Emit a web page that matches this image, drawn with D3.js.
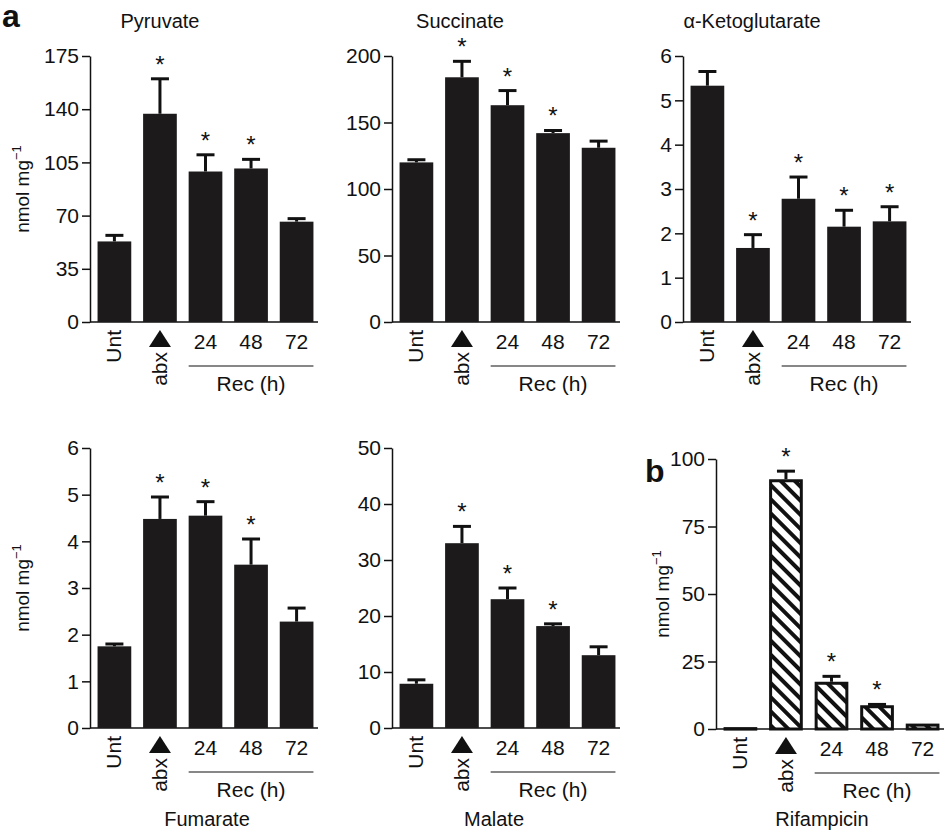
<!DOCTYPE html>
<html><head><meta charset="utf-8">
<script src="https://cdn.jsdelivr.net/npm/d3@7"></script>
<style>body{margin:0;background:#fff}text{font-family:"Liberation Sans",Arial,sans-serif;fill:#111}</style>
</head><body><svg id="c" width="946" height="832"></svg>
<script>
const categories=["Unt","abx","24","48","72"];
const pyruvate=[53,137,99,101,66], pyruvateErr=[4,23,11,6,2];
const succinate=[120,184,163,142,131], succinateErr=[2,12,11,2,5];
const akg=[5.33,1.67,2.78,2.15,2.27], akgErr=[0.32,0.3,0.49,0.37,0.33];
const fumarate=[1.75,4.48,4.55,3.5,2.28], fumarateErr=[0.05,0.47,0.3,0.55,0.29];
const malate=[7.9,33,23,18.2,13], malateErr=[0.7,3,2,0.4,1.5];
const rifampicin=[0.7,92.5,17.5,8.8,2], rifampicinErr=[0,3,2,0.3,0];
const stars=[[0,1,1,1,0],[0,1,1,1,0],[0,1,1,1,1],[0,1,1,1,0],[0,1,1,1,0],[0,1,1,1,0]];
const svg=d3.select("#c");
const defs=svg.append("defs");
const pat=defs.append("pattern").attr("id","hatch").attr("patternUnits","userSpaceOnUse").attr("width",10).attr("height",10).attr("patternTransform","rotate(-45)");
pat.append("rect").attr("width",10).attr("height",10).attr("fill","#fff");
pat.append("rect").attr("width",4).attr("height",10).attr("fill","#111");
const panels=[
 {vals:pyruvate,err:pyruvateErr,st:stars[0],ax:90,top:56,bot:322,max:175,ticks:[0,35,70,105,140,175],title:"Pyruvate",tx:160,ty:28,ylab:20},
 {vals:succinate,err:succinateErr,st:stars[1],ax:392,top:56,bot:322,max:200,ticks:[0,50,100,150,200],title:"Succinate",tx:460,ty:28},
 {vals:akg,err:akgErr,st:stars[2],ax:683,top:56,bot:322,max:6,ticks:[0,1,2,3,4,5,6],title:"α-Ketoglutarate",tx:752,ty:28},
 {vals:fumarate,err:fumarateErr,st:stars[3],ax:90,top:448,bot:728,max:6,ticks:[0,1,2,3,4,5,6],title:"Fumarate",tx:207,ty:826,ylab:20},
 {vals:malate,err:malateErr,st:stars[4],ax:392,top:448,bot:728,max:50,ticks:[0,10,20,30,40,50],title:"Malate",tx:494,ty:826},
 {vals:rifampicin,err:rifampicinErr,st:stars[5],ax:716,top:459,bot:729,max:100,ticks:[0,25,50,75,100],title:"Rifampicin",tx:822,ty:826,ylab:660,hatch:true}
];
panels.forEach(p=>{
 const g=svg.append("g");
 const x=d3.scaleBand().domain(categories).range([p.ax+3,p.ax+3+5*45]).paddingInner(0.26).paddingOuter(0.1);
 const y=d3.scaleLinear().domain([0,p.max]).range([p.bot,p.top]);
 const ya=g.append("g").attr("transform",`translate(${p.ax},0)`).call(d3.axisLeft(y).tickValues(p.ticks).tickFormat(d3.format("d")).tickSize(8).tickSizeOuter(0));
 ya.attr("font-size",null);
 ya.select(".domain").attr("stroke","#111").attr("stroke-width",1.5);
 ya.selectAll("line").attr("stroke","#111").attr("stroke-width",1.5);
 ya.selectAll("text").style("font-size","21px").attr("fill","#111").attr("x",-11);
 g.append("line").attr("x1",p.ax).attr("x2",p.ax+3+5*45).attr("y1",p.bot).attr("y2",p.bot).attr("stroke","#111").attr("stroke-width",1.5);
 p.vals.forEach((v,i)=>{
  const c=categories[i],cx=x(c)+x.bandwidth()/2;
  const et=y(v+p.err[i]);
  if(p.err[i]>0){
   g.append("line").attr("x1",cx).attr("x2",cx).attr("y1",y(v)).attr("y2",et).attr("stroke","#111").attr("stroke-width",3);
   g.append("line").attr("x1",cx-9).attr("x2",cx+9).attr("y1",et).attr("y2",et).attr("stroke","#111").attr("stroke-width",3);
  }
  if(p.hatch){
   g.append("rect").attr("x",x(c)+1.5).attr("y",y(v)+1.5).attr("width",x.bandwidth()-3).attr("height",Math.max(0.5,p.bot-y(v)-1.5)).attr("fill","url(#hatch)").attr("stroke","#111").attr("stroke-width",3);
  } else {
   g.append("rect").attr("x",x(c)).attr("y",y(v)).attr("width",x.bandwidth()).attr("height",p.bot-y(v)).attr("fill","#1c1a1a");
  }
  if(p.st[i]) g.append("text").attr("x",cx).attr("y",et-6).attr("text-anchor","middle").style("font-size","24px").text("*");
 });
 const b=p.bot;
 const cu=x("Unt")+x.bandwidth()/2, ca=x("abx")+x.bandwidth()/2;
 g.append("text").attr("transform",`translate(${cu+7},${b+8}) rotate(-90)`).attr("text-anchor","end").style("font-size","21px").text("Unt");
 g.append("path").attr("d",`M${ca-11},${b+25}L${ca+11},${b+25}L${ca},${b+8}Z`).attr("fill","#111");
 g.append("text").attr("transform",`translate(${ca+7},${b+30}) rotate(-90)`).attr("text-anchor","end").style("font-size","21px").text("abx");
 ["24","48","72"].forEach(c=>g.append("text").attr("x",x(c)+x.bandwidth()/2).attr("y",b+27).attr("text-anchor","middle").style("font-size","21px").text(c));
 g.append("line").attr("x1",x("24")).attr("x2",x("72")+x.bandwidth()).attr("y1",b+44).attr("y2",b+44).attr("stroke","#111").attr("stroke-width",1.2);
 g.append("text").attr("x",x("48")+x.bandwidth()/2).attr("y",b+69).attr("text-anchor","middle").style("font-size","21px").text("Rec (h)");
 g.append("text").attr("x",p.tx).attr("y",p.ty).attr("text-anchor","middle").style("font-size","20px").text(p.title);
 if(p.ylab){
  const t=g.append("text").attr("transform",`translate(${p.ylab+9},${(p.top+p.bot)/2}) rotate(-90)`).attr("text-anchor","middle").style("font-size","19px");
  t.append("tspan").text("nmol mg");
  t.append("tspan").attr("dy",-8).style("font-size","13px").text("−1");
 }
});
svg.append("text").attr("x",2).attr("y",27).style("font-size","32px").attr("font-weight","bold").text("a");
svg.append("text").attr("x",645).attr("y",482).style("font-size","32px").attr("font-weight","bold").text("b");
</script></body></html>
